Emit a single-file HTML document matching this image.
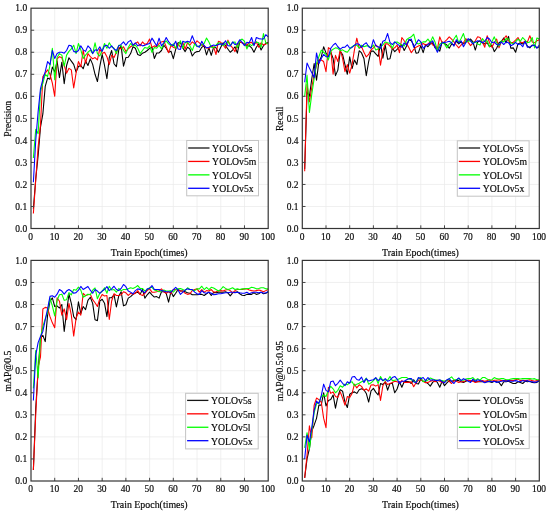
<!DOCTYPE html>
<html><head><meta charset="utf-8"><title>YOLOv5 training curves</title>
<style>html,body{margin:0;padding:0;background:#fff}svg{display:block}text{stroke:#0a0a0a;stroke-width:.18px}</style>
</head><body>
<svg width="550" height="514" viewBox="0 0 550 514" font-family='"Liberation Serif", serif' font-size="9.7" fill="#0a0a0a">
<rect width="550" height="514" fill="#fff"/>
<g><line x1="54.72" y1="8.2" x2="54.72" y2="228.5" stroke="#e9e9e9" stroke-width="0.7"/>
<line x1="31.0" y1="206.47" x2="268.2" y2="206.47" stroke="#e9e9e9" stroke-width="0.7"/>
<line x1="78.44" y1="8.2" x2="78.44" y2="228.5" stroke="#e9e9e9" stroke-width="0.7"/>
<line x1="31.0" y1="184.44" x2="268.2" y2="184.44" stroke="#e9e9e9" stroke-width="0.7"/>
<line x1="102.16" y1="8.2" x2="102.16" y2="228.5" stroke="#e9e9e9" stroke-width="0.7"/>
<line x1="31.0" y1="162.41" x2="268.2" y2="162.41" stroke="#e9e9e9" stroke-width="0.7"/>
<line x1="125.88" y1="8.2" x2="125.88" y2="228.5" stroke="#e9e9e9" stroke-width="0.7"/>
<line x1="31.0" y1="140.38" x2="268.2" y2="140.38" stroke="#e9e9e9" stroke-width="0.7"/>
<line x1="149.60" y1="8.2" x2="149.60" y2="228.5" stroke="#e9e9e9" stroke-width="0.7"/>
<line x1="31.0" y1="118.35" x2="268.2" y2="118.35" stroke="#e9e9e9" stroke-width="0.7"/>
<line x1="173.32" y1="8.2" x2="173.32" y2="228.5" stroke="#e9e9e9" stroke-width="0.7"/>
<line x1="31.0" y1="96.32" x2="268.2" y2="96.32" stroke="#e9e9e9" stroke-width="0.7"/>
<line x1="197.04" y1="8.2" x2="197.04" y2="228.5" stroke="#e9e9e9" stroke-width="0.7"/>
<line x1="31.0" y1="74.29" x2="268.2" y2="74.29" stroke="#e9e9e9" stroke-width="0.7"/>
<line x1="220.76" y1="8.2" x2="220.76" y2="228.5" stroke="#e9e9e9" stroke-width="0.7"/>
<line x1="31.0" y1="52.26" x2="268.2" y2="52.26" stroke="#e9e9e9" stroke-width="0.7"/>
<line x1="244.48" y1="8.2" x2="244.48" y2="228.5" stroke="#e9e9e9" stroke-width="0.7"/>
<line x1="31.0" y1="30.23" x2="268.2" y2="30.23" stroke="#e9e9e9" stroke-width="0.7"/>
<polyline points="33.37,208.67 35.74,178.93 38.12,155.80 40.49,127.16 42.86,113.94 45.23,86.41 47.60,78.04 49.98,79.14 52.35,67.02 54.72,72.09 57.09,61.07 59.46,77.59 61.84,62.17 64.21,83.76 66.58,65.48 68.95,57.77 71.32,61.07 73.70,64.38 76.07,72.09 78.44,66.58 80.81,65.48 83.18,68.78 85.56,61.07 87.93,65.48 90.30,58.87 92.67,64.38 95.04,74.29 97.42,81.56 99.79,66.58 102.16,54.46 104.53,65.48 106.90,78.70 109.28,57.55 111.65,50.50 114.02,63.72 116.39,66.58 118.76,49.84 121.14,45.87 123.51,66.14 125.88,57.55 128.25,57.33 130.62,53.58 133.00,46.75 135.37,48.29 137.74,54.46 140.11,55.56 142.48,53.14 144.86,52.26 147.23,50.50 149.60,48.29 151.97,47.41 154.34,58.43 156.72,52.92 159.09,52.92 161.46,50.50 163.83,45.21 166.20,48.29 168.58,52.26 170.95,51.16 173.32,58.65 175.69,49.40 178.06,42.79 180.44,42.79 182.81,47.85 185.18,51.60 187.55,47.19 189.92,48.96 192.30,56.01 194.67,52.70 197.04,51.60 199.41,51.16 201.78,47.19 204.16,46.09 206.53,54.90 208.90,47.85 211.27,55.34 213.64,47.19 216.02,47.85 218.39,52.26 220.76,47.19 223.13,42.79 225.50,45.65 227.88,48.96 230.25,52.26 232.62,50.06 234.99,46.75 237.36,53.14 239.74,41.91 242.11,42.79 244.48,43.89 246.85,46.09 249.22,45.65 251.60,47.85 253.97,52.26 256.34,47.19 258.71,43.89 261.08,50.06 263.46,45.65 265.83,43.45 268.20,42.35" fill="none" stroke="#000000" stroke-width="1.08" stroke-linejoin="round"/>
<polyline points="33.37,213.52 35.74,180.03 38.12,146.99 40.49,124.96 42.86,76.49 45.23,73.19 47.60,69.88 49.98,74.29 52.35,83.10 54.72,96.32 57.09,58.87 59.46,56.67 61.84,57.77 64.21,65.48 66.58,73.19 68.95,68.34 71.32,69.88 73.70,87.95 76.07,73.19 78.44,61.51 80.81,66.80 83.18,50.06 85.56,63.27 87.93,53.58 90.30,56.67 92.67,58.87 95.04,57.55 97.42,59.97 99.79,48.96 102.16,53.58 104.53,52.26 106.90,56.67 109.28,64.60 111.65,55.12 114.02,57.55 116.39,52.26 118.76,47.41 121.14,48.96 123.51,46.75 125.88,51.38 128.25,48.96 130.62,46.75 133.00,45.21 135.37,43.45 137.74,41.91 140.11,45.87 142.48,41.91 144.86,44.33 147.23,43.45 149.60,39.04 151.97,47.41 154.34,45.87 156.72,46.75 159.09,43.45 161.46,41.91 163.83,41.25 166.20,46.75 168.58,52.70 170.95,45.65 173.32,47.19 175.69,48.29 178.06,43.89 180.44,47.19 182.81,42.79 185.18,48.96 187.55,42.79 189.92,44.99 192.30,41.91 194.67,43.89 197.04,40.80 199.41,42.79 201.78,44.99 204.16,46.09 206.53,47.85 208.90,48.29 211.27,46.09 213.64,47.19 216.02,54.46 218.39,41.25 220.76,42.35 223.13,44.99 225.50,48.29 227.88,40.14 230.25,44.99 232.62,47.85 234.99,51.60 237.36,44.99 239.74,41.91 242.11,42.79 244.48,43.89 246.85,44.99 249.22,42.79 251.60,42.35 253.97,44.99 256.34,41.91 258.71,47.19 261.08,42.79 263.46,44.99 265.83,43.89 268.20,42.79" fill="none" stroke="#ff0000" stroke-width="1.08" stroke-linejoin="round"/>
<polyline points="33.37,158.00 35.74,129.37 38.12,133.77 40.49,91.91 42.86,83.10 45.23,74.29 47.60,76.49 49.98,65.48 52.35,48.29 54.72,79.80 57.09,57.55 59.46,53.58 61.84,55.12 64.21,66.14 66.58,55.12 68.95,51.38 71.32,48.96 73.70,45.21 76.07,53.58 78.44,43.45 80.81,49.84 83.18,58.43 85.56,55.12 87.93,52.26 90.30,50.06 92.67,53.58 95.04,42.79 97.42,53.58 99.79,56.01 102.16,50.50 104.53,43.45 106.90,48.29 109.28,42.79 111.65,46.75 114.02,48.29 116.39,53.58 118.76,45.21 121.14,45.87 123.51,50.50 125.88,53.58 128.25,47.41 130.62,43.45 133.00,45.87 135.37,45.21 137.74,48.29 140.11,53.58 142.48,50.50 144.86,47.41 147.23,48.29 149.60,45.87 151.97,52.26 154.34,47.41 156.72,48.29 159.09,45.21 161.46,48.96 163.83,43.45 166.20,40.80 168.58,43.89 170.95,45.65 173.32,43.89 175.69,47.85 178.06,46.09 180.44,40.80 182.81,48.29 185.18,42.79 187.55,41.91 189.92,46.09 192.30,50.50 194.67,43.89 197.04,46.75 199.41,45.65 201.78,44.99 204.16,43.45 206.53,37.94 208.90,41.91 211.27,47.19 213.64,47.85 216.02,44.99 218.39,42.79 220.76,43.45 223.13,45.65 225.50,43.89 227.88,41.25 230.25,45.65 232.62,42.35 234.99,41.91 237.36,47.85 239.74,40.80 242.11,39.04 244.48,41.25 246.85,48.96 249.22,43.89 251.60,45.65 253.97,43.45 256.34,41.91 258.71,42.79 261.08,47.19 263.46,33.53 265.83,42.79 268.20,43.89" fill="none" stroke="#00ff00" stroke-width="1.08" stroke-linejoin="round"/>
<polyline points="33.37,182.24 35.74,140.38 38.12,111.74 40.49,88.61 42.86,79.36 45.23,71.65 47.60,61.51 49.98,64.60 52.35,50.50 54.72,58.43 57.09,53.58 59.46,52.26 61.84,52.26 64.21,53.14 66.58,50.50 68.95,45.21 71.32,45.87 73.70,51.38 76.07,52.26 78.44,50.50 80.81,45.87 83.18,49.84 85.56,51.38 87.93,45.87 90.30,48.29 92.67,53.58 95.04,49.84 97.42,50.50 99.79,46.75 102.16,51.38 104.53,45.87 106.90,45.21 109.28,48.29 111.65,45.87 114.02,48.96 116.39,50.50 118.76,45.87 121.14,44.33 123.51,41.91 125.88,45.21 128.25,41.91 130.62,40.36 133.00,45.21 135.37,42.79 137.74,45.87 140.11,44.33 142.48,45.87 144.86,45.21 147.23,44.33 149.60,43.45 151.97,38.16 154.34,41.91 156.72,45.87 159.09,38.16 161.46,45.87 163.83,42.79 166.20,37.50 168.58,41.69 170.95,44.55 173.32,45.65 175.69,41.25 178.06,48.96 180.44,49.40 182.81,41.25 185.18,42.35 187.55,41.25 189.92,42.35 192.30,35.74 194.67,41.91 197.04,46.09 199.41,47.19 201.78,41.25 204.16,45.65 206.53,47.85 208.90,47.19 211.27,46.09 213.64,44.99 216.02,45.65 218.39,44.55 220.76,43.89 223.13,44.55 225.50,40.80 227.88,45.65 230.25,46.09 232.62,41.91 234.99,44.55 237.36,43.89 239.74,39.70 242.11,42.35 244.48,45.65 246.85,42.35 249.22,42.79 251.60,37.50 253.97,45.65 256.34,37.50 258.71,38.60 261.08,39.04 263.46,39.04 265.83,34.64 268.20,36.84" fill="none" stroke="#0000ff" stroke-width="1.08" stroke-linejoin="round"/>
<line x1="54.72" y1="228.5" x2="54.72" y2="225.3" stroke="#464646" stroke-width="1"/>
<line x1="31.0" y1="206.47" x2="34.2" y2="206.47" stroke="#464646" stroke-width="1"/>
<line x1="78.44" y1="228.5" x2="78.44" y2="225.3" stroke="#464646" stroke-width="1"/>
<line x1="31.0" y1="184.44" x2="34.2" y2="184.44" stroke="#464646" stroke-width="1"/>
<line x1="102.16" y1="228.5" x2="102.16" y2="225.3" stroke="#464646" stroke-width="1"/>
<line x1="31.0" y1="162.41" x2="34.2" y2="162.41" stroke="#464646" stroke-width="1"/>
<line x1="125.88" y1="228.5" x2="125.88" y2="225.3" stroke="#464646" stroke-width="1"/>
<line x1="31.0" y1="140.38" x2="34.2" y2="140.38" stroke="#464646" stroke-width="1"/>
<line x1="149.60" y1="228.5" x2="149.60" y2="225.3" stroke="#464646" stroke-width="1"/>
<line x1="31.0" y1="118.35" x2="34.2" y2="118.35" stroke="#464646" stroke-width="1"/>
<line x1="173.32" y1="228.5" x2="173.32" y2="225.3" stroke="#464646" stroke-width="1"/>
<line x1="31.0" y1="96.32" x2="34.2" y2="96.32" stroke="#464646" stroke-width="1"/>
<line x1="197.04" y1="228.5" x2="197.04" y2="225.3" stroke="#464646" stroke-width="1"/>
<line x1="31.0" y1="74.29" x2="34.2" y2="74.29" stroke="#464646" stroke-width="1"/>
<line x1="220.76" y1="228.5" x2="220.76" y2="225.3" stroke="#464646" stroke-width="1"/>
<line x1="31.0" y1="52.26" x2="34.2" y2="52.26" stroke="#464646" stroke-width="1"/>
<line x1="244.48" y1="228.5" x2="244.48" y2="225.3" stroke="#464646" stroke-width="1"/>
<line x1="31.0" y1="30.23" x2="34.2" y2="30.23" stroke="#464646" stroke-width="1"/>
<rect x="31.0" y="8.2" width="237.20" height="220.30" fill="none" stroke="#353535" stroke-width="1.2"/>
<text transform="translate(30.70,240.10) scale(0.93,1)" text-anchor="middle" font-size="10.2">0</text>
<text transform="translate(27.20,231.65) scale(0.93,1)" text-anchor="end" font-size="10.2">0.0</text>
<text transform="translate(54.42,240.10) scale(0.93,1)" text-anchor="middle" font-size="10.2">10</text>
<text transform="translate(27.20,209.62) scale(0.93,1)" text-anchor="end" font-size="10.2">0.1</text>
<text transform="translate(78.14,240.10) scale(0.93,1)" text-anchor="middle" font-size="10.2">20</text>
<text transform="translate(27.20,187.59) scale(0.93,1)" text-anchor="end" font-size="10.2">0.2</text>
<text transform="translate(101.86,240.10) scale(0.93,1)" text-anchor="middle" font-size="10.2">30</text>
<text transform="translate(27.20,165.56) scale(0.93,1)" text-anchor="end" font-size="10.2">0.3</text>
<text transform="translate(125.58,240.10) scale(0.93,1)" text-anchor="middle" font-size="10.2">40</text>
<text transform="translate(27.20,143.53) scale(0.93,1)" text-anchor="end" font-size="10.2">0.4</text>
<text transform="translate(149.30,240.10) scale(0.93,1)" text-anchor="middle" font-size="10.2">50</text>
<text transform="translate(27.20,121.50) scale(0.93,1)" text-anchor="end" font-size="10.2">0.5</text>
<text transform="translate(173.02,240.10) scale(0.93,1)" text-anchor="middle" font-size="10.2">60</text>
<text transform="translate(27.20,99.47) scale(0.93,1)" text-anchor="end" font-size="10.2">0.6</text>
<text transform="translate(196.74,240.10) scale(0.93,1)" text-anchor="middle" font-size="10.2">70</text>
<text transform="translate(27.20,77.44) scale(0.93,1)" text-anchor="end" font-size="10.2">0.7</text>
<text transform="translate(220.46,240.10) scale(0.93,1)" text-anchor="middle" font-size="10.2">80</text>
<text transform="translate(27.20,55.41) scale(0.93,1)" text-anchor="end" font-size="10.2">0.8</text>
<text transform="translate(244.18,240.10) scale(0.93,1)" text-anchor="middle" font-size="10.2">90</text>
<text transform="translate(27.20,33.38) scale(0.93,1)" text-anchor="end" font-size="10.2">0.9</text>
<text transform="translate(267.90,240.10) scale(0.93,1)" text-anchor="middle" font-size="10.2">100</text>
<text transform="translate(27.20,11.35) scale(0.93,1)" text-anchor="end" font-size="10.2">1.0</text>
<text transform="translate(149.20,256.00) scale(0.962,1)" text-anchor="middle" font-size="10.3">Train Epoch(times)</text>
<text transform="translate(11.40,118.75) rotate(-90) scale(0.936,1)" text-anchor="middle" font-size="10.3">Precision</text>
<rect x="186.70" y="140.50" width="71.80" height="55.30" fill="#fff" stroke="#c4c4c4" stroke-width="1"/>
<line x1="188.20" y1="148.00" x2="209.50" y2="148.00" stroke="#161616" stroke-width="1.3"/>
<text transform="translate(212.10,152.00) scale(0.945,1)" text-anchor="start" font-size="10.3">YOLOv5s</text>
<line x1="188.20" y1="161.43" x2="209.50" y2="161.43" stroke="#ff0000" stroke-width="1.3"/>
<text transform="translate(212.10,165.43) scale(0.945,1)" text-anchor="start" font-size="10.3">YOLOv5m</text>
<line x1="188.20" y1="174.86" x2="209.50" y2="174.86" stroke="#00ff00" stroke-width="1.3"/>
<text transform="translate(212.10,178.86) scale(0.945,1)" text-anchor="start" font-size="10.3">YOLOv5l</text>
<line x1="188.20" y1="188.29" x2="209.50" y2="188.29" stroke="#0000ff" stroke-width="1.3"/>
<text transform="translate(212.10,192.29) scale(0.945,1)" text-anchor="start" font-size="10.3">YOLOv5x</text></g>
<g><line x1="326.00" y1="8.2" x2="326.00" y2="228.5" stroke="#e9e9e9" stroke-width="0.7"/>
<line x1="302.3" y1="206.47" x2="539.3" y2="206.47" stroke="#e9e9e9" stroke-width="0.7"/>
<line x1="349.70" y1="8.2" x2="349.70" y2="228.5" stroke="#e9e9e9" stroke-width="0.7"/>
<line x1="302.3" y1="184.44" x2="539.3" y2="184.44" stroke="#e9e9e9" stroke-width="0.7"/>
<line x1="373.40" y1="8.2" x2="373.40" y2="228.5" stroke="#e9e9e9" stroke-width="0.7"/>
<line x1="302.3" y1="162.41" x2="539.3" y2="162.41" stroke="#e9e9e9" stroke-width="0.7"/>
<line x1="397.10" y1="8.2" x2="397.10" y2="228.5" stroke="#e9e9e9" stroke-width="0.7"/>
<line x1="302.3" y1="140.38" x2="539.3" y2="140.38" stroke="#e9e9e9" stroke-width="0.7"/>
<line x1="420.80" y1="8.2" x2="420.80" y2="228.5" stroke="#e9e9e9" stroke-width="0.7"/>
<line x1="302.3" y1="118.35" x2="539.3" y2="118.35" stroke="#e9e9e9" stroke-width="0.7"/>
<line x1="444.50" y1="8.2" x2="444.50" y2="228.5" stroke="#e9e9e9" stroke-width="0.7"/>
<line x1="302.3" y1="96.32" x2="539.3" y2="96.32" stroke="#e9e9e9" stroke-width="0.7"/>
<line x1="468.20" y1="8.2" x2="468.20" y2="228.5" stroke="#e9e9e9" stroke-width="0.7"/>
<line x1="302.3" y1="74.29" x2="539.3" y2="74.29" stroke="#e9e9e9" stroke-width="0.7"/>
<line x1="491.90" y1="8.2" x2="491.90" y2="228.5" stroke="#e9e9e9" stroke-width="0.7"/>
<line x1="302.3" y1="52.26" x2="539.3" y2="52.26" stroke="#e9e9e9" stroke-width="0.7"/>
<line x1="515.60" y1="8.2" x2="515.60" y2="228.5" stroke="#e9e9e9" stroke-width="0.7"/>
<line x1="302.3" y1="30.23" x2="539.3" y2="30.23" stroke="#e9e9e9" stroke-width="0.7"/>
<polyline points="304.67,169.02 307.04,91.91 309.41,96.32 311.78,78.70 314.15,63.50 316.52,80.24 318.89,61.51 321.26,56.89 323.63,46.75 326.00,52.92 328.37,56.89 330.74,52.26 333.11,58.43 335.48,75.61 337.85,70.10 340.22,51.38 342.59,54.46 344.96,64.60 347.33,74.29 349.70,56.89 352.07,68.56 354.44,59.97 356.81,64.60 359.18,50.72 361.55,52.92 363.92,58.43 366.29,75.61 368.66,61.51 371.03,50.94 373.40,51.16 375.77,53.80 378.14,56.45 380.51,43.89 382.88,58.21 385.25,44.99 387.62,59.31 389.99,58.65 392.36,48.29 394.73,51.60 397.10,49.40 399.47,46.75 401.84,44.99 404.21,50.50 406.58,46.09 408.95,39.70 411.32,40.80 413.69,44.99 416.06,53.14 418.43,52.70 420.80,45.65 423.17,52.70 425.54,44.55 427.91,46.75 430.28,43.89 432.65,42.79 435.02,47.85 437.39,48.29 439.76,51.16 442.13,41.91 444.50,43.45 446.87,44.99 449.24,48.29 451.61,43.89 453.98,44.99 456.35,41.25 458.72,43.89 461.09,41.91 463.46,43.89 465.83,41.91 468.20,40.14 470.57,39.04 472.94,41.91 475.31,50.06 477.68,41.91 480.05,40.80 482.42,42.79 484.79,43.89 487.16,42.79 489.53,46.75 491.90,44.99 494.27,51.60 496.64,48.29 499.01,42.79 501.38,41.25 503.75,37.94 506.12,42.79 508.49,36.40 510.86,48.29 513.23,47.85 515.60,52.26 517.97,43.89 520.34,42.79 522.71,43.89 525.08,41.91 527.45,46.09 529.82,47.85 532.19,44.99 534.56,45.65 536.93,47.85 539.30,46.75" fill="none" stroke="#000000" stroke-width="1.08" stroke-linejoin="round"/>
<polyline points="304.67,171.22 307.04,84.20 309.41,101.83 311.78,87.51 314.15,74.29 316.52,65.48 318.89,59.97 321.26,59.97 323.63,61.51 326.00,71.65 328.37,47.63 330.74,49.18 333.11,74.29 335.48,55.34 337.85,61.51 340.22,49.84 342.59,58.43 344.96,71.65 347.33,64.60 349.70,73.19 352.07,64.60 354.44,49.84 356.81,38.16 359.18,48.29 361.55,46.75 363.92,52.26 366.29,56.89 368.66,54.46 371.03,49.84 373.40,47.85 375.77,44.99 378.14,47.19 380.51,65.26 382.88,50.50 385.25,43.89 387.62,43.89 389.99,46.09 392.36,48.96 394.73,47.85 397.10,44.99 399.47,52.70 401.84,37.50 404.21,40.80 406.58,43.45 408.95,47.85 411.32,52.70 413.69,49.40 416.06,47.19 418.43,46.09 420.80,44.99 423.17,43.45 425.54,44.99 427.91,43.89 430.28,41.91 432.65,44.99 435.02,46.09 437.39,48.96 439.76,36.84 442.13,42.79 444.50,41.91 446.87,39.70 449.24,36.84 451.61,39.04 453.98,41.91 456.35,44.99 458.72,47.85 461.09,44.99 463.46,42.79 465.83,38.60 468.20,42.35 470.57,45.65 472.94,42.79 475.31,40.80 477.68,36.84 480.05,37.50 482.42,42.35 484.79,47.19 487.16,35.74 489.53,42.79 491.90,47.19 494.27,42.79 496.64,39.04 499.01,47.85 501.38,41.91 503.75,39.04 506.12,35.74 508.49,40.80 510.86,42.79 513.23,42.35 515.60,40.14 517.97,37.50 520.34,41.91 522.71,42.79 525.08,41.25 527.45,41.91 529.82,35.74 532.19,41.91 534.56,42.79 536.93,40.80 539.30,39.70" fill="none" stroke="#ff0000" stroke-width="1.08" stroke-linejoin="round"/>
<polyline points="304.67,96.32 307.04,75.17 309.41,112.40 311.78,94.12 314.15,78.70 316.52,63.50 318.89,56.67 321.26,50.06 323.63,52.26 326.00,54.46 328.37,59.97 330.74,51.38 333.11,49.18 335.48,47.85 337.85,48.29 340.22,50.72 342.59,49.84 344.96,51.38 347.33,52.26 349.70,49.18 352.07,46.75 354.44,45.21 356.81,45.21 359.18,47.85 361.55,45.21 363.92,46.75 366.29,45.87 368.66,45.87 371.03,47.85 373.40,44.99 375.77,50.06 378.14,48.96 380.51,46.75 382.88,44.99 385.25,41.91 387.62,42.79 389.99,43.45 392.36,48.29 394.73,42.35 397.10,41.91 399.47,43.45 401.84,44.99 404.21,46.09 406.58,39.70 408.95,37.94 411.32,36.84 413.69,34.20 416.06,42.79 418.43,43.89 420.80,42.79 423.17,41.91 425.54,41.91 427.91,39.04 430.28,42.35 432.65,36.84 435.02,41.91 437.39,50.50 439.76,43.89 442.13,42.79 444.50,43.89 446.87,47.85 449.24,43.89 451.61,42.79 453.98,39.04 456.35,35.30 458.72,42.79 461.09,38.60 463.46,33.53 465.83,41.91 468.20,41.25 470.57,40.80 472.94,42.79 475.31,41.91 477.68,43.89 480.05,44.99 482.42,38.60 484.79,41.69 487.16,40.80 489.53,46.75 491.90,41.91 494.27,36.84 496.64,42.79 499.01,46.09 501.38,40.80 503.75,41.91 506.12,38.60 508.49,39.04 510.86,42.79 513.23,43.89 515.60,41.91 517.97,39.04 520.34,41.25 522.71,37.50 525.08,40.14 527.45,42.79 529.82,41.91 532.19,37.50 534.56,47.85 536.93,37.94 539.30,39.04" fill="none" stroke="#00ff00" stroke-width="1.08" stroke-linejoin="round"/>
<polyline points="304.67,82.22 307.04,63.05 309.41,68.12 311.78,72.75 314.15,77.59 316.52,52.92 318.89,63.50 321.26,58.43 323.63,54.46 326.00,56.67 328.37,56.67 330.74,48.29 333.11,45.21 335.48,43.23 337.85,46.75 340.22,49.18 342.59,47.41 344.96,47.19 347.33,44.77 349.70,48.29 352.07,47.41 354.44,45.21 356.81,43.67 359.18,44.33 361.55,47.41 363.92,44.33 366.29,42.79 368.66,46.75 371.03,48.29 373.40,39.70 375.77,45.65 378.14,46.75 380.51,48.29 382.88,41.25 385.25,40.14 387.62,33.53 389.99,42.35 392.36,44.55 394.73,41.91 397.10,43.89 399.47,45.65 401.84,47.19 404.21,42.79 406.58,44.99 408.95,39.70 411.32,39.04 413.69,47.19 416.06,43.89 418.43,39.70 420.80,41.91 423.17,48.29 425.54,46.09 427.91,44.55 430.28,42.79 432.65,40.80 435.02,46.75 437.39,52.26 439.76,46.75 442.13,42.79 444.50,42.35 446.87,41.91 449.24,41.25 451.61,42.79 453.98,46.09 456.35,39.70 458.72,42.79 461.09,40.80 463.46,46.75 465.83,42.79 468.20,38.60 470.57,40.80 472.94,43.89 475.31,41.91 477.68,40.80 480.05,41.25 482.42,42.79 484.79,41.25 487.16,37.50 489.53,39.04 491.90,42.79 494.27,41.91 496.64,44.55 499.01,44.99 501.38,41.91 503.75,44.55 506.12,41.91 508.49,42.79 510.86,45.65 513.23,44.55 515.60,42.35 517.97,44.55 520.34,43.89 522.71,46.75 525.08,41.25 527.45,47.19 529.82,46.75 532.19,45.65 534.56,44.99 536.93,48.29 539.30,44.99" fill="none" stroke="#0000ff" stroke-width="1.08" stroke-linejoin="round"/>
<line x1="326.00" y1="228.5" x2="326.00" y2="225.3" stroke="#464646" stroke-width="1"/>
<line x1="302.3" y1="206.47" x2="305.5" y2="206.47" stroke="#464646" stroke-width="1"/>
<line x1="349.70" y1="228.5" x2="349.70" y2="225.3" stroke="#464646" stroke-width="1"/>
<line x1="302.3" y1="184.44" x2="305.5" y2="184.44" stroke="#464646" stroke-width="1"/>
<line x1="373.40" y1="228.5" x2="373.40" y2="225.3" stroke="#464646" stroke-width="1"/>
<line x1="302.3" y1="162.41" x2="305.5" y2="162.41" stroke="#464646" stroke-width="1"/>
<line x1="397.10" y1="228.5" x2="397.10" y2="225.3" stroke="#464646" stroke-width="1"/>
<line x1="302.3" y1="140.38" x2="305.5" y2="140.38" stroke="#464646" stroke-width="1"/>
<line x1="420.80" y1="228.5" x2="420.80" y2="225.3" stroke="#464646" stroke-width="1"/>
<line x1="302.3" y1="118.35" x2="305.5" y2="118.35" stroke="#464646" stroke-width="1"/>
<line x1="444.50" y1="228.5" x2="444.50" y2="225.3" stroke="#464646" stroke-width="1"/>
<line x1="302.3" y1="96.32" x2="305.5" y2="96.32" stroke="#464646" stroke-width="1"/>
<line x1="468.20" y1="228.5" x2="468.20" y2="225.3" stroke="#464646" stroke-width="1"/>
<line x1="302.3" y1="74.29" x2="305.5" y2="74.29" stroke="#464646" stroke-width="1"/>
<line x1="491.90" y1="228.5" x2="491.90" y2="225.3" stroke="#464646" stroke-width="1"/>
<line x1="302.3" y1="52.26" x2="305.5" y2="52.26" stroke="#464646" stroke-width="1"/>
<line x1="515.60" y1="228.5" x2="515.60" y2="225.3" stroke="#464646" stroke-width="1"/>
<line x1="302.3" y1="30.23" x2="305.5" y2="30.23" stroke="#464646" stroke-width="1"/>
<rect x="302.3" y="8.2" width="237.00" height="220.30" fill="none" stroke="#353535" stroke-width="1.2"/>
<text transform="translate(302.00,240.10) scale(0.93,1)" text-anchor="middle" font-size="10.2">0</text>
<text transform="translate(298.50,231.65) scale(0.93,1)" text-anchor="end" font-size="10.2">0.0</text>
<text transform="translate(325.70,240.10) scale(0.93,1)" text-anchor="middle" font-size="10.2">10</text>
<text transform="translate(298.50,209.62) scale(0.93,1)" text-anchor="end" font-size="10.2">0.1</text>
<text transform="translate(349.40,240.10) scale(0.93,1)" text-anchor="middle" font-size="10.2">20</text>
<text transform="translate(298.50,187.59) scale(0.93,1)" text-anchor="end" font-size="10.2">0.2</text>
<text transform="translate(373.10,240.10) scale(0.93,1)" text-anchor="middle" font-size="10.2">30</text>
<text transform="translate(298.50,165.56) scale(0.93,1)" text-anchor="end" font-size="10.2">0.3</text>
<text transform="translate(396.80,240.10) scale(0.93,1)" text-anchor="middle" font-size="10.2">40</text>
<text transform="translate(298.50,143.53) scale(0.93,1)" text-anchor="end" font-size="10.2">0.4</text>
<text transform="translate(420.50,240.10) scale(0.93,1)" text-anchor="middle" font-size="10.2">50</text>
<text transform="translate(298.50,121.50) scale(0.93,1)" text-anchor="end" font-size="10.2">0.5</text>
<text transform="translate(444.20,240.10) scale(0.93,1)" text-anchor="middle" font-size="10.2">60</text>
<text transform="translate(298.50,99.47) scale(0.93,1)" text-anchor="end" font-size="10.2">0.6</text>
<text transform="translate(467.90,240.10) scale(0.93,1)" text-anchor="middle" font-size="10.2">70</text>
<text transform="translate(298.50,77.44) scale(0.93,1)" text-anchor="end" font-size="10.2">0.7</text>
<text transform="translate(491.60,240.10) scale(0.93,1)" text-anchor="middle" font-size="10.2">80</text>
<text transform="translate(298.50,55.41) scale(0.93,1)" text-anchor="end" font-size="10.2">0.8</text>
<text transform="translate(515.30,240.10) scale(0.93,1)" text-anchor="middle" font-size="10.2">90</text>
<text transform="translate(298.50,33.38) scale(0.93,1)" text-anchor="end" font-size="10.2">0.9</text>
<text transform="translate(539.00,240.10) scale(0.93,1)" text-anchor="middle" font-size="10.2">100</text>
<text transform="translate(298.50,11.35) scale(0.93,1)" text-anchor="end" font-size="10.2">1.0</text>
<text transform="translate(420.40,256.00) scale(0.962,1)" text-anchor="middle" font-size="10.3">Train Epoch(times)</text>
<text transform="translate(282.70,118.75) rotate(-90) scale(0.936,1)" text-anchor="middle" font-size="10.3">Recall</text>
<rect x="457.30" y="140.80" width="71.80" height="55.40" fill="#fff" stroke="#c4c4c4" stroke-width="1"/>
<line x1="458.80" y1="148.00" x2="480.10" y2="148.00" stroke="#161616" stroke-width="1.3"/>
<text transform="translate(482.70,152.00) scale(0.945,1)" text-anchor="start" font-size="10.3">YOLOv5s</text>
<line x1="458.80" y1="161.43" x2="480.10" y2="161.43" stroke="#ff0000" stroke-width="1.3"/>
<text transform="translate(482.70,165.43) scale(0.945,1)" text-anchor="start" font-size="10.3">YOLOv5m</text>
<line x1="458.80" y1="174.86" x2="480.10" y2="174.86" stroke="#00ff00" stroke-width="1.3"/>
<text transform="translate(482.70,178.86) scale(0.945,1)" text-anchor="start" font-size="10.3">YOLOv5l</text>
<line x1="458.80" y1="188.29" x2="480.10" y2="188.29" stroke="#0000ff" stroke-width="1.3"/>
<text transform="translate(482.70,192.29) scale(0.945,1)" text-anchor="start" font-size="10.3">YOLOv5x</text></g>
<g><line x1="54.72" y1="260.4" x2="54.72" y2="481.0" stroke="#e9e9e9" stroke-width="0.7"/>
<line x1="31.0" y1="458.94" x2="268.2" y2="458.94" stroke="#e9e9e9" stroke-width="0.7"/>
<line x1="78.44" y1="260.4" x2="78.44" y2="481.0" stroke="#e9e9e9" stroke-width="0.7"/>
<line x1="31.0" y1="436.88" x2="268.2" y2="436.88" stroke="#e9e9e9" stroke-width="0.7"/>
<line x1="102.16" y1="260.4" x2="102.16" y2="481.0" stroke="#e9e9e9" stroke-width="0.7"/>
<line x1="31.0" y1="414.82" x2="268.2" y2="414.82" stroke="#e9e9e9" stroke-width="0.7"/>
<line x1="125.88" y1="260.4" x2="125.88" y2="481.0" stroke="#e9e9e9" stroke-width="0.7"/>
<line x1="31.0" y1="392.76" x2="268.2" y2="392.76" stroke="#e9e9e9" stroke-width="0.7"/>
<line x1="149.60" y1="260.4" x2="149.60" y2="481.0" stroke="#e9e9e9" stroke-width="0.7"/>
<line x1="31.0" y1="370.70" x2="268.2" y2="370.70" stroke="#e9e9e9" stroke-width="0.7"/>
<line x1="173.32" y1="260.4" x2="173.32" y2="481.0" stroke="#e9e9e9" stroke-width="0.7"/>
<line x1="31.0" y1="348.64" x2="268.2" y2="348.64" stroke="#e9e9e9" stroke-width="0.7"/>
<line x1="197.04" y1="260.4" x2="197.04" y2="481.0" stroke="#e9e9e9" stroke-width="0.7"/>
<line x1="31.0" y1="326.58" x2="268.2" y2="326.58" stroke="#e9e9e9" stroke-width="0.7"/>
<line x1="220.76" y1="260.4" x2="220.76" y2="481.0" stroke="#e9e9e9" stroke-width="0.7"/>
<line x1="31.0" y1="304.52" x2="268.2" y2="304.52" stroke="#e9e9e9" stroke-width="0.7"/>
<line x1="244.48" y1="260.4" x2="244.48" y2="481.0" stroke="#e9e9e9" stroke-width="0.7"/>
<line x1="31.0" y1="282.46" x2="268.2" y2="282.46" stroke="#e9e9e9" stroke-width="0.7"/>
<polyline points="33.37,469.97 35.74,408.20 38.12,370.70 40.49,337.61 42.86,335.40 45.23,341.58 47.60,315.11 49.98,301.21 52.35,297.90 54.72,306.51 57.09,305.84 59.46,308.05 61.84,304.52 64.21,331.43 66.58,312.02 68.95,294.15 71.32,303.42 73.70,316.65 76.07,319.74 78.44,301.87 80.81,313.56 83.18,306.51 85.56,309.59 87.93,300.33 90.30,297.24 92.67,303.42 95.04,319.74 97.42,320.62 99.79,301.21 102.16,299.23 104.53,303.20 106.90,316.65 109.28,297.68 111.65,297.68 114.02,294.81 116.39,306.95 118.76,295.92 121.14,291.73 123.51,305.84 125.88,304.74 128.25,298.12 130.62,296.58 133.00,294.37 135.37,292.83 137.74,292.17 140.11,294.37 142.48,289.52 144.86,298.12 147.23,294.81 149.60,292.17 151.97,294.81 154.34,297.02 156.72,296.58 159.09,298.12 161.46,291.73 163.83,291.73 166.20,293.27 168.58,302.09 170.95,291.73 173.32,296.58 175.69,293.27 178.06,289.52 180.44,291.06 182.81,291.06 185.18,291.73 187.55,292.83 189.92,293.27 192.30,294.81 194.67,294.81 197.04,294.81 199.41,294.37 201.78,294.37 204.16,295.48 206.53,293.71 208.90,292.17 211.27,295.48 213.64,292.39 216.02,292.83 218.39,292.17 220.76,292.17 223.13,292.17 225.50,291.73 227.88,292.83 230.25,295.92 232.62,292.83 234.99,292.17 237.36,291.73 239.74,293.71 242.11,295.25 244.48,295.48 246.85,294.37 249.22,294.37 251.60,294.37 253.97,292.83 256.34,294.37 258.71,293.71 261.08,292.17 263.46,293.71 265.83,293.27 268.20,291.73" fill="none" stroke="#000000" stroke-width="1.08" stroke-linejoin="round"/>
<polyline points="33.37,469.97 35.74,414.82 38.12,367.17 40.49,356.80 42.86,308.93 45.23,307.39 47.60,308.05 49.98,316.65 52.35,322.83 54.72,327.68 57.09,297.90 59.46,301.21 61.84,315.11 64.21,308.93 66.58,319.74 68.95,303.42 71.32,315.11 73.70,336.07 76.07,318.20 78.44,312.02 80.81,315.11 83.18,293.27 85.56,295.70 87.93,294.81 90.30,294.15 92.67,299.67 95.04,302.76 97.42,306.51 99.79,298.78 102.16,294.59 104.53,295.92 106.90,295.48 109.28,319.52 111.65,300.99 114.02,293.71 116.39,295.48 118.76,295.48 121.14,294.81 123.51,291.73 125.88,292.83 128.25,295.48 130.62,293.27 133.00,294.37 135.37,293.27 137.74,290.62 140.11,294.37 142.48,295.48 144.86,293.27 147.23,290.62 149.60,288.86 151.97,292.17 154.34,292.17 156.72,291.73 159.09,290.62 161.46,288.86 163.83,291.73 166.20,293.27 168.58,291.73 170.95,293.71 173.32,289.52 175.69,289.52 178.06,289.96 180.44,291.06 182.81,291.06 185.18,293.27 187.55,294.37 189.92,293.71 192.30,290.62 194.67,289.52 197.04,288.86 199.41,292.17 201.78,289.52 204.16,292.17 206.53,290.62 208.90,291.06 211.27,289.52 213.64,292.17 216.02,291.73 218.39,291.06 220.76,290.62 223.13,291.06 225.50,289.96 227.88,289.52 230.25,290.62 232.62,292.83 234.99,290.62 237.36,289.52 239.74,289.52 242.11,289.52 244.48,288.86 246.85,288.86 249.22,289.96 251.60,290.62 253.97,291.06 256.34,290.62 258.71,289.96 261.08,290.62 263.46,291.73 265.83,290.62 268.20,289.52" fill="none" stroke="#ff0000" stroke-width="1.08" stroke-linejoin="round"/>
<polyline points="33.37,388.35 35.74,350.63 38.12,377.76 40.49,337.61 42.86,326.58 45.23,318.86 47.60,312.02 49.98,297.90 52.35,305.84 54.72,315.99 57.09,300.33 59.46,294.81 61.84,294.15 64.21,300.33 66.58,299.67 68.95,292.61 71.32,294.81 73.70,289.52 76.07,290.18 78.44,287.09 80.81,290.18 83.18,297.24 85.56,295.70 87.93,294.15 90.30,294.81 92.67,290.18 95.04,287.97 97.42,298.78 99.79,293.27 102.16,291.28 104.53,287.75 106.90,293.27 109.28,286.21 111.65,289.96 114.02,289.52 116.39,292.17 118.76,288.42 121.14,290.62 123.51,289.52 125.88,289.52 128.25,288.86 130.62,287.75 133.00,288.42 135.37,287.31 137.74,285.55 140.11,288.42 142.48,288.42 144.86,291.06 147.23,289.52 149.60,287.75 151.97,287.31 154.34,289.96 156.72,290.62 159.09,291.73 161.46,291.06 163.83,289.96 166.20,291.06 168.58,291.06 170.95,290.62 173.32,292.17 175.69,289.52 178.06,288.86 180.44,288.42 182.81,289.52 185.18,290.62 187.55,287.75 189.92,289.52 192.30,289.96 194.67,290.62 197.04,288.86 199.41,288.86 201.78,286.21 204.16,289.52 206.53,287.31 208.90,289.52 211.27,287.31 213.64,287.97 216.02,289.52 218.39,291.06 220.76,289.52 223.13,286.65 225.50,288.42 227.88,289.52 230.25,288.86 232.62,287.75 234.99,289.52 237.36,288.86 239.74,289.52 242.11,288.86 244.48,288.86 246.85,288.42 249.22,288.42 251.60,287.31 253.97,287.75 256.34,288.86 258.71,288.42 261.08,287.75 263.46,287.75 265.83,288.86 268.20,288.86" fill="none" stroke="#00ff00" stroke-width="1.08" stroke-linejoin="round"/>
<polyline points="33.37,400.48 35.74,355.04 38.12,342.68 40.49,336.51 42.86,331.43 45.23,319.96 47.60,308.93 49.98,296.36 52.35,295.70 54.72,297.24 57.09,294.15 59.46,289.52 61.84,291.06 64.21,294.15 66.58,291.06 68.95,289.52 71.32,291.06 73.70,293.27 76.07,292.61 78.44,290.18 80.81,286.43 83.18,289.52 85.56,287.97 87.93,286.43 90.30,290.18 92.67,293.27 95.04,289.52 97.42,291.06 99.79,293.27 102.16,291.06 104.53,289.52 106.90,286.65 109.28,290.62 111.65,288.86 114.02,286.21 116.39,289.52 118.76,290.62 121.14,288.42 123.51,284.45 125.88,286.65 128.25,291.06 130.62,292.17 133.00,293.71 135.37,290.62 137.74,288.86 140.11,289.52 142.48,291.06 144.86,292.83 147.23,288.86 149.60,288.42 151.97,285.55 154.34,289.52 156.72,289.52 159.09,289.52 161.46,290.62 163.83,291.06 166.20,291.73 168.58,291.73 170.95,292.17 173.32,289.52 175.69,287.31 178.06,289.96 180.44,294.37 182.81,292.17 185.18,289.96 187.55,288.86 189.92,289.52 192.30,289.52 194.67,292.17 197.04,293.71 199.41,294.37 201.78,290.62 204.16,292.83 206.53,293.27 208.90,292.17 211.27,293.27 213.64,294.81 216.02,294.37 218.39,293.71 220.76,293.71 223.13,293.27 225.50,292.83 227.88,292.83 230.25,292.17 232.62,292.17 234.99,292.83 237.36,292.17 239.74,292.83 242.11,293.27 244.48,293.27 246.85,292.17 249.22,293.71 251.60,292.83 253.97,292.17 256.34,292.17 258.71,292.83 261.08,292.17 263.46,293.27 265.83,292.83 268.20,291.73" fill="none" stroke="#0000ff" stroke-width="1.08" stroke-linejoin="round"/>
<line x1="54.72" y1="481.0" x2="54.72" y2="477.8" stroke="#464646" stroke-width="1"/>
<line x1="31.0" y1="458.94" x2="34.2" y2="458.94" stroke="#464646" stroke-width="1"/>
<line x1="78.44" y1="481.0" x2="78.44" y2="477.8" stroke="#464646" stroke-width="1"/>
<line x1="31.0" y1="436.88" x2="34.2" y2="436.88" stroke="#464646" stroke-width="1"/>
<line x1="102.16" y1="481.0" x2="102.16" y2="477.8" stroke="#464646" stroke-width="1"/>
<line x1="31.0" y1="414.82" x2="34.2" y2="414.82" stroke="#464646" stroke-width="1"/>
<line x1="125.88" y1="481.0" x2="125.88" y2="477.8" stroke="#464646" stroke-width="1"/>
<line x1="31.0" y1="392.76" x2="34.2" y2="392.76" stroke="#464646" stroke-width="1"/>
<line x1="149.60" y1="481.0" x2="149.60" y2="477.8" stroke="#464646" stroke-width="1"/>
<line x1="31.0" y1="370.70" x2="34.2" y2="370.70" stroke="#464646" stroke-width="1"/>
<line x1="173.32" y1="481.0" x2="173.32" y2="477.8" stroke="#464646" stroke-width="1"/>
<line x1="31.0" y1="348.64" x2="34.2" y2="348.64" stroke="#464646" stroke-width="1"/>
<line x1="197.04" y1="481.0" x2="197.04" y2="477.8" stroke="#464646" stroke-width="1"/>
<line x1="31.0" y1="326.58" x2="34.2" y2="326.58" stroke="#464646" stroke-width="1"/>
<line x1="220.76" y1="481.0" x2="220.76" y2="477.8" stroke="#464646" stroke-width="1"/>
<line x1="31.0" y1="304.52" x2="34.2" y2="304.52" stroke="#464646" stroke-width="1"/>
<line x1="244.48" y1="481.0" x2="244.48" y2="477.8" stroke="#464646" stroke-width="1"/>
<line x1="31.0" y1="282.46" x2="34.2" y2="282.46" stroke="#464646" stroke-width="1"/>
<rect x="31.0" y="260.4" width="237.20" height="220.60" fill="none" stroke="#353535" stroke-width="1.2"/>
<text transform="translate(30.70,491.80) scale(0.93,1)" text-anchor="middle" font-size="10.2">0</text>
<text transform="translate(27.20,484.15) scale(0.93,1)" text-anchor="end" font-size="10.2">0.0</text>
<text transform="translate(54.42,491.80) scale(0.93,1)" text-anchor="middle" font-size="10.2">10</text>
<text transform="translate(27.20,462.09) scale(0.93,1)" text-anchor="end" font-size="10.2">0.1</text>
<text transform="translate(78.14,491.80) scale(0.93,1)" text-anchor="middle" font-size="10.2">20</text>
<text transform="translate(27.20,440.03) scale(0.93,1)" text-anchor="end" font-size="10.2">0.2</text>
<text transform="translate(101.86,491.80) scale(0.93,1)" text-anchor="middle" font-size="10.2">30</text>
<text transform="translate(27.20,417.97) scale(0.93,1)" text-anchor="end" font-size="10.2">0.3</text>
<text transform="translate(125.58,491.80) scale(0.93,1)" text-anchor="middle" font-size="10.2">40</text>
<text transform="translate(27.20,395.91) scale(0.93,1)" text-anchor="end" font-size="10.2">0.4</text>
<text transform="translate(149.30,491.80) scale(0.93,1)" text-anchor="middle" font-size="10.2">50</text>
<text transform="translate(27.20,373.85) scale(0.93,1)" text-anchor="end" font-size="10.2">0.5</text>
<text transform="translate(173.02,491.80) scale(0.93,1)" text-anchor="middle" font-size="10.2">60</text>
<text transform="translate(27.20,351.79) scale(0.93,1)" text-anchor="end" font-size="10.2">0.6</text>
<text transform="translate(196.74,491.80) scale(0.93,1)" text-anchor="middle" font-size="10.2">70</text>
<text transform="translate(27.20,329.73) scale(0.93,1)" text-anchor="end" font-size="10.2">0.7</text>
<text transform="translate(220.46,491.80) scale(0.93,1)" text-anchor="middle" font-size="10.2">80</text>
<text transform="translate(27.20,307.67) scale(0.93,1)" text-anchor="end" font-size="10.2">0.8</text>
<text transform="translate(244.18,491.80) scale(0.93,1)" text-anchor="middle" font-size="10.2">90</text>
<text transform="translate(27.20,285.61) scale(0.93,1)" text-anchor="end" font-size="10.2">0.9</text>
<text transform="translate(267.90,491.80) scale(0.93,1)" text-anchor="middle" font-size="10.2">100</text>
<text transform="translate(27.20,263.55) scale(0.93,1)" text-anchor="end" font-size="10.2">1.0</text>
<text transform="translate(149.20,507.90) scale(0.962,1)" text-anchor="middle" font-size="10.3">Train Epoch(times)</text>
<text transform="translate(11.40,371.10) rotate(-90) scale(0.936,1)" text-anchor="middle" font-size="10.3">mAP@0.5</text>
<rect x="185.60" y="393.30" width="72.60" height="55.60" fill="#fff" stroke="#c4c4c4" stroke-width="1"/>
<line x1="187.10" y1="400.40" x2="208.40" y2="400.40" stroke="#161616" stroke-width="1.3"/>
<text transform="translate(211.00,404.40) scale(0.945,1)" text-anchor="start" font-size="10.3">YOLOv5s</text>
<line x1="187.10" y1="413.83" x2="208.40" y2="413.83" stroke="#ff0000" stroke-width="1.3"/>
<text transform="translate(211.00,417.83) scale(0.945,1)" text-anchor="start" font-size="10.3">YOLOv5m</text>
<line x1="187.10" y1="427.26" x2="208.40" y2="427.26" stroke="#00ff00" stroke-width="1.3"/>
<text transform="translate(211.00,431.26) scale(0.945,1)" text-anchor="start" font-size="10.3">YOLOv5l</text>
<line x1="187.10" y1="440.69" x2="208.40" y2="440.69" stroke="#0000ff" stroke-width="1.3"/>
<text transform="translate(211.00,444.69) scale(0.945,1)" text-anchor="start" font-size="10.3">YOLOv5x</text></g>
<g><line x1="326.00" y1="260.4" x2="326.00" y2="481.0" stroke="#e9e9e9" stroke-width="0.7"/>
<line x1="302.3" y1="458.94" x2="539.3" y2="458.94" stroke="#e9e9e9" stroke-width="0.7"/>
<line x1="349.70" y1="260.4" x2="349.70" y2="481.0" stroke="#e9e9e9" stroke-width="0.7"/>
<line x1="302.3" y1="436.88" x2="539.3" y2="436.88" stroke="#e9e9e9" stroke-width="0.7"/>
<line x1="373.40" y1="260.4" x2="373.40" y2="481.0" stroke="#e9e9e9" stroke-width="0.7"/>
<line x1="302.3" y1="414.82" x2="539.3" y2="414.82" stroke="#e9e9e9" stroke-width="0.7"/>
<line x1="397.10" y1="260.4" x2="397.10" y2="481.0" stroke="#e9e9e9" stroke-width="0.7"/>
<line x1="302.3" y1="392.76" x2="539.3" y2="392.76" stroke="#e9e9e9" stroke-width="0.7"/>
<line x1="420.80" y1="260.4" x2="420.80" y2="481.0" stroke="#e9e9e9" stroke-width="0.7"/>
<line x1="302.3" y1="370.70" x2="539.3" y2="370.70" stroke="#e9e9e9" stroke-width="0.7"/>
<line x1="444.50" y1="260.4" x2="444.50" y2="481.0" stroke="#e9e9e9" stroke-width="0.7"/>
<line x1="302.3" y1="348.64" x2="539.3" y2="348.64" stroke="#e9e9e9" stroke-width="0.7"/>
<line x1="468.20" y1="260.4" x2="468.20" y2="481.0" stroke="#e9e9e9" stroke-width="0.7"/>
<line x1="302.3" y1="326.58" x2="539.3" y2="326.58" stroke="#e9e9e9" stroke-width="0.7"/>
<line x1="491.90" y1="260.4" x2="491.90" y2="481.0" stroke="#e9e9e9" stroke-width="0.7"/>
<line x1="302.3" y1="304.52" x2="539.3" y2="304.52" stroke="#e9e9e9" stroke-width="0.7"/>
<line x1="515.60" y1="260.4" x2="515.60" y2="481.0" stroke="#e9e9e9" stroke-width="0.7"/>
<line x1="302.3" y1="282.46" x2="539.3" y2="282.46" stroke="#e9e9e9" stroke-width="0.7"/>
<polyline points="304.67,477.91 307.04,458.94 309.41,448.57 311.78,430.92 314.15,425.19 316.52,418.35 318.89,405.11 321.26,405.11 323.63,392.76 326.00,406.00 328.37,400.48 330.74,399.60 333.11,394.97 335.48,408.20 337.85,396.51 340.22,389.67 342.59,391.22 344.96,402.03 347.33,407.54 349.70,394.30 352.07,392.76 354.44,391.88 356.81,393.42 359.18,389.67 361.55,388.79 363.92,389.67 366.29,393.42 368.66,402.03 371.03,390.77 373.40,388.35 375.77,392.10 378.14,394.97 380.51,383.49 382.88,384.60 385.25,381.73 387.62,390.11 389.99,383.49 392.36,383.49 394.73,392.76 397.10,389.01 399.47,381.73 401.84,387.25 404.21,381.73 406.58,381.29 408.95,381.73 411.32,383.49 413.69,379.74 416.06,383.49 418.43,383.94 420.80,379.08 423.17,381.29 425.54,381.73 427.91,383.49 430.28,386.14 432.65,382.39 435.02,380.63 437.39,382.39 439.76,387.25 442.13,381.29 444.50,385.70 446.87,382.83 449.24,380.63 451.61,381.29 453.98,380.63 456.35,380.19 458.72,380.63 461.09,381.73 463.46,382.39 465.83,381.29 468.20,380.19 470.57,381.29 472.94,380.63 475.31,381.73 477.68,381.73 480.05,381.73 482.42,381.73 484.79,381.95 487.16,381.73 489.53,381.73 491.90,382.39 494.27,381.29 496.64,381.73 499.01,382.39 501.38,385.70 503.75,381.73 506.12,381.73 508.49,381.29 510.86,382.39 513.23,383.49 515.60,383.49 517.97,381.73 520.34,382.39 522.71,383.49 525.08,381.29 527.45,381.73 529.82,381.29 532.19,382.39 534.56,382.83 536.93,382.39 539.30,380.63" fill="none" stroke="#000000" stroke-width="1.08" stroke-linejoin="round"/>
<polyline points="304.67,477.91 307.04,455.19 309.41,425.85 311.78,437.76 314.15,405.11 316.52,398.05 318.89,399.60 321.26,402.03 323.63,418.13 326.00,427.61 328.37,387.25 330.74,393.42 333.11,391.88 335.48,396.51 337.85,397.39 340.22,391.88 342.59,398.05 344.96,405.11 347.33,396.51 349.70,397.39 352.07,393.42 354.44,384.16 356.81,387.91 359.18,384.82 361.55,386.36 363.92,390.33 366.29,388.79 368.66,391.22 371.03,385.04 373.40,384.82 375.77,386.14 378.14,384.60 380.51,400.48 382.88,385.70 385.25,381.73 387.62,384.60 389.99,383.49 392.36,382.39 394.73,381.29 397.10,381.73 399.47,382.83 401.84,380.63 404.21,382.39 406.58,382.39 408.95,382.39 411.32,381.73 413.69,386.80 416.06,382.83 418.43,380.19 420.80,379.74 423.17,381.29 425.54,382.83 427.91,382.39 430.28,381.29 432.65,380.63 435.02,381.73 437.39,380.19 439.76,381.29 442.13,382.39 444.50,381.29 446.87,380.19 449.24,381.29 451.61,383.49 453.98,380.63 456.35,381.29 458.72,382.39 461.09,381.73 463.46,381.73 465.83,380.63 468.20,380.19 470.57,380.63 472.94,381.29 475.31,382.39 477.68,381.73 480.05,381.29 482.42,380.63 484.79,381.29 487.16,380.63 489.53,379.74 491.90,381.29 494.27,380.19 496.64,380.19 499.01,379.74 501.38,380.63 503.75,380.63 506.12,380.19 508.49,380.63 510.86,380.19 513.23,380.63 515.60,379.74 517.97,379.08 520.34,380.63 522.71,380.19 525.08,380.63 527.45,380.19 529.82,379.74 532.19,380.63 534.56,381.29 536.93,380.63 539.30,380.19" fill="none" stroke="#ff0000" stroke-width="1.08" stroke-linejoin="round"/>
<polyline points="304.67,447.91 307.04,432.69 309.41,449.45 311.78,430.26 314.15,412.61 316.52,403.79 318.89,402.69 321.26,396.51 323.63,394.97 326.00,396.51 328.37,390.33 330.74,386.36 333.11,388.79 335.48,392.76 337.85,390.33 340.22,385.70 342.59,387.25 344.96,384.16 347.33,384.82 349.70,382.61 352.07,381.73 354.44,385.70 356.81,384.16 359.18,383.27 361.55,381.73 363.92,381.07 366.29,377.98 368.66,384.16 371.03,382.83 373.40,380.63 375.77,377.98 378.14,383.49 380.51,376.44 382.88,380.63 385.25,379.74 387.62,380.19 389.99,376.44 392.36,380.63 394.73,380.19 397.10,379.74 399.47,378.64 401.84,377.54 404.21,377.54 406.58,377.54 408.95,379.08 411.32,379.74 413.69,381.29 416.06,381.73 418.43,378.64 420.80,377.54 423.17,381.73 425.54,380.63 427.91,380.19 430.28,377.98 432.65,379.08 435.02,379.74 437.39,380.19 439.76,380.19 442.13,380.63 444.50,381.29 446.87,380.63 449.24,378.64 451.61,376.88 453.98,379.74 456.35,379.74 458.72,378.64 461.09,380.19 463.46,380.19 465.83,379.08 468.20,378.64 470.57,378.64 472.94,377.54 475.31,380.19 477.68,378.64 480.05,380.19 482.42,377.54 484.79,377.54 487.16,379.08 489.53,380.19 491.90,379.74 494.27,377.54 496.64,378.64 499.01,379.08 501.38,378.64 503.75,378.64 506.12,379.74 508.49,379.74 510.86,379.08 513.23,378.64 515.60,378.64 517.97,378.64 520.34,379.08 522.71,378.64 525.08,378.64 527.45,378.64 529.82,378.64 532.19,379.08 534.56,378.64 536.93,379.74 539.30,379.74" fill="none" stroke="#00ff00" stroke-width="1.08" stroke-linejoin="round"/>
<polyline points="304.67,458.94 307.04,435.12 309.41,441.95 311.78,427.61 314.15,410.41 316.52,401.14 318.89,403.57 321.26,395.85 323.63,384.16 326.00,390.33 328.37,391.88 330.74,381.73 333.11,381.07 335.48,385.70 337.85,383.27 340.22,380.19 342.59,383.27 344.96,385.70 347.33,381.73 349.70,383.27 352.07,377.10 354.44,376.44 356.81,379.52 359.18,380.19 361.55,377.10 363.92,382.61 366.29,378.64 368.66,381.07 371.03,380.19 373.40,379.74 375.77,377.54 378.14,380.63 380.51,378.64 382.88,380.63 385.25,378.64 387.62,381.29 389.99,380.19 392.36,377.54 394.73,376.44 397.10,379.08 399.47,383.49 401.84,381.29 404.21,381.29 406.58,379.74 408.95,378.64 411.32,378.64 413.69,381.73 416.06,382.83 418.43,377.54 420.80,378.64 423.17,377.54 425.54,380.63 427.91,377.54 430.28,380.19 432.65,379.74 435.02,380.19 437.39,380.63 439.76,379.74 442.13,381.73 444.50,382.83 446.87,379.74 449.24,378.64 451.61,381.29 453.98,383.49 456.35,380.19 458.72,377.98 461.09,380.63 463.46,378.64 465.83,379.74 468.20,381.29 470.57,382.39 472.94,379.08 475.31,381.29 477.68,379.74 480.05,380.63 482.42,381.29 484.79,382.83 487.16,381.73 489.53,381.29 491.90,381.73 494.27,381.29 496.64,382.39 499.01,381.73 501.38,381.29 503.75,380.63 506.12,381.29 508.49,380.63 510.86,381.29 513.23,381.29 515.60,380.63 517.97,381.29 520.34,381.73 522.71,380.63 525.08,381.29 527.45,380.63 529.82,381.73 532.19,381.73 534.56,382.39 536.93,381.73 539.30,380.63" fill="none" stroke="#0000ff" stroke-width="1.08" stroke-linejoin="round"/>
<line x1="326.00" y1="481.0" x2="326.00" y2="477.8" stroke="#464646" stroke-width="1"/>
<line x1="302.3" y1="458.94" x2="305.5" y2="458.94" stroke="#464646" stroke-width="1"/>
<line x1="349.70" y1="481.0" x2="349.70" y2="477.8" stroke="#464646" stroke-width="1"/>
<line x1="302.3" y1="436.88" x2="305.5" y2="436.88" stroke="#464646" stroke-width="1"/>
<line x1="373.40" y1="481.0" x2="373.40" y2="477.8" stroke="#464646" stroke-width="1"/>
<line x1="302.3" y1="414.82" x2="305.5" y2="414.82" stroke="#464646" stroke-width="1"/>
<line x1="397.10" y1="481.0" x2="397.10" y2="477.8" stroke="#464646" stroke-width="1"/>
<line x1="302.3" y1="392.76" x2="305.5" y2="392.76" stroke="#464646" stroke-width="1"/>
<line x1="420.80" y1="481.0" x2="420.80" y2="477.8" stroke="#464646" stroke-width="1"/>
<line x1="302.3" y1="370.70" x2="305.5" y2="370.70" stroke="#464646" stroke-width="1"/>
<line x1="444.50" y1="481.0" x2="444.50" y2="477.8" stroke="#464646" stroke-width="1"/>
<line x1="302.3" y1="348.64" x2="305.5" y2="348.64" stroke="#464646" stroke-width="1"/>
<line x1="468.20" y1="481.0" x2="468.20" y2="477.8" stroke="#464646" stroke-width="1"/>
<line x1="302.3" y1="326.58" x2="305.5" y2="326.58" stroke="#464646" stroke-width="1"/>
<line x1="491.90" y1="481.0" x2="491.90" y2="477.8" stroke="#464646" stroke-width="1"/>
<line x1="302.3" y1="304.52" x2="305.5" y2="304.52" stroke="#464646" stroke-width="1"/>
<line x1="515.60" y1="481.0" x2="515.60" y2="477.8" stroke="#464646" stroke-width="1"/>
<line x1="302.3" y1="282.46" x2="305.5" y2="282.46" stroke="#464646" stroke-width="1"/>
<rect x="302.3" y="260.4" width="237.00" height="220.60" fill="none" stroke="#353535" stroke-width="1.2"/>
<text transform="translate(302.00,491.80) scale(0.93,1)" text-anchor="middle" font-size="10.2">0</text>
<text transform="translate(298.50,484.15) scale(0.93,1)" text-anchor="end" font-size="10.2">0.0</text>
<text transform="translate(325.70,491.80) scale(0.93,1)" text-anchor="middle" font-size="10.2">10</text>
<text transform="translate(298.50,462.09) scale(0.93,1)" text-anchor="end" font-size="10.2">0.1</text>
<text transform="translate(349.40,491.80) scale(0.93,1)" text-anchor="middle" font-size="10.2">20</text>
<text transform="translate(298.50,440.03) scale(0.93,1)" text-anchor="end" font-size="10.2">0.2</text>
<text transform="translate(373.10,491.80) scale(0.93,1)" text-anchor="middle" font-size="10.2">30</text>
<text transform="translate(298.50,417.97) scale(0.93,1)" text-anchor="end" font-size="10.2">0.3</text>
<text transform="translate(396.80,491.80) scale(0.93,1)" text-anchor="middle" font-size="10.2">40</text>
<text transform="translate(298.50,395.91) scale(0.93,1)" text-anchor="end" font-size="10.2">0.4</text>
<text transform="translate(420.50,491.80) scale(0.93,1)" text-anchor="middle" font-size="10.2">50</text>
<text transform="translate(298.50,373.85) scale(0.93,1)" text-anchor="end" font-size="10.2">0.5</text>
<text transform="translate(444.20,491.80) scale(0.93,1)" text-anchor="middle" font-size="10.2">60</text>
<text transform="translate(298.50,351.79) scale(0.93,1)" text-anchor="end" font-size="10.2">0.6</text>
<text transform="translate(467.90,491.80) scale(0.93,1)" text-anchor="middle" font-size="10.2">70</text>
<text transform="translate(298.50,329.73) scale(0.93,1)" text-anchor="end" font-size="10.2">0.7</text>
<text transform="translate(491.60,491.80) scale(0.93,1)" text-anchor="middle" font-size="10.2">80</text>
<text transform="translate(298.50,307.67) scale(0.93,1)" text-anchor="end" font-size="10.2">0.8</text>
<text transform="translate(515.30,491.80) scale(0.93,1)" text-anchor="middle" font-size="10.2">90</text>
<text transform="translate(298.50,285.61) scale(0.93,1)" text-anchor="end" font-size="10.2">0.9</text>
<text transform="translate(539.00,491.80) scale(0.93,1)" text-anchor="middle" font-size="10.2">100</text>
<text transform="translate(298.50,263.55) scale(0.93,1)" text-anchor="end" font-size="10.2">1.0</text>
<text transform="translate(420.40,507.90) scale(0.962,1)" text-anchor="middle" font-size="10.3">Train Epoch(times)</text>
<text transform="translate(282.70,371.10) rotate(-90) scale(0.936,1)" text-anchor="middle" font-size="10.3">mAP@0.5:0.95</text>
<rect x="457.40" y="393.30" width="71.80" height="55.30" fill="#fff" stroke="#c4c4c4" stroke-width="1"/>
<line x1="458.90" y1="400.40" x2="480.20" y2="400.40" stroke="#161616" stroke-width="1.3"/>
<text transform="translate(482.80,404.40) scale(0.945,1)" text-anchor="start" font-size="10.3">YOLOv5s</text>
<line x1="458.90" y1="413.83" x2="480.20" y2="413.83" stroke="#ff0000" stroke-width="1.3"/>
<text transform="translate(482.80,417.83) scale(0.945,1)" text-anchor="start" font-size="10.3">YOLOv5m</text>
<line x1="458.90" y1="427.26" x2="480.20" y2="427.26" stroke="#00ff00" stroke-width="1.3"/>
<text transform="translate(482.80,431.26) scale(0.945,1)" text-anchor="start" font-size="10.3">YOLOv5l</text>
<line x1="458.90" y1="440.69" x2="480.20" y2="440.69" stroke="#0000ff" stroke-width="1.3"/>
<text transform="translate(482.80,444.69) scale(0.945,1)" text-anchor="start" font-size="10.3">YOLOv5x</text></g>
</svg>
</body></html>
